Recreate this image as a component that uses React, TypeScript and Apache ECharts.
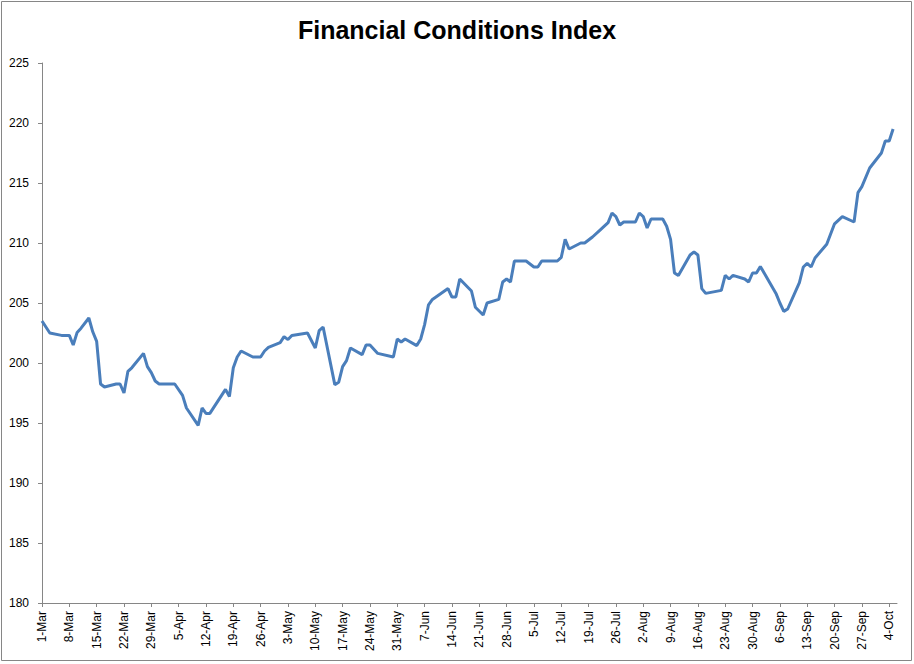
import React, { useEffect, useRef } from "react";
import * as echarts from "echarts";

const MONTHS = ["Jan", "Feb", "Mar", "Apr", "May", "Jun", "Jul", "Aug", "Sep", "Oct", "Nov", "Dec"];

// Axis range (daily date axis, 2010)
const startDate = "2010-03-01";
const dayCount = 220; // 1-Mar .. 6-Oct

const tickLabels = [
  "1-Mar", "8-Mar", "15-Mar", "22-Mar", "29-Mar", "5-Apr", "12-Apr", "19-Apr", "26-Apr",
  "3-May", "10-May", "17-May", "24-May", "31-May", "7-Jun", "14-Jun", "21-Jun", "28-Jun",
  "5-Jul", "12-Jul", "19-Jul", "26-Jul", "2-Aug", "9-Aug", "16-Aug", "23-Aug", "30-Aug",
  "6-Sep", "13-Sep", "20-Sep", "27-Sep", "4-Oct",
];

const pointDates = [
  "1-Mar", "3-Mar", "6-Mar", "8-Mar", "9-Mar", "10-Mar", "11-Mar", "13-Mar", "14-Mar", "15-Mar",
  "16-Mar", "17-Mar", "20-Mar", "21-Mar", "22-Mar", "23-Mar", "24-Mar", "27-Mar", "28-Mar", "29-Mar",
  "30-Mar", "31-Mar", "4-Apr", "6-Apr", "7-Apr", "10-Apr", "11-Apr", "12-Apr", "13-Apr", "17-Apr",
  "18-Apr", "19-Apr", "20-Apr", "21-Apr", "24-Apr", "26-Apr", "27-Apr", "28-Apr", "1-May", "2-May",
  "3-May", "4-May", "8-May", "10-May", "11-May", "12-May", "15-May", "16-May", "17-May", "18-May",
  "19-May", "22-May", "23-May", "24-May", "26-May", "30-May", "31-May", "1-Jun", "2-Jun", "5-Jun",
  "6-Jun", "7-Jun", "8-Jun", "9-Jun", "13-Jun", "14-Jun", "15-Jun", "16-Jun", "19-Jun", "20-Jun",
  "22-Jun", "23-Jun", "26-Jun", "27-Jun", "28-Jun", "29-Jun", "30-Jun", "3-Jul", "5-Jul", "6-Jul",
  "7-Jul", "11-Jul", "12-Jul", "13-Jul", "14-Jul", "17-Jul", "18-Jul", "20-Jul", "22-Jul", "24-Jul",
  "25-Jul", "26-Jul", "27-Jul", "28-Jul", "31-Jul", "1-Aug", "2-Aug", "3-Aug", "4-Aug", "7-Aug",
  "8-Aug", "9-Aug", "10-Aug", "11-Aug", "14-Aug", "15-Aug", "16-Aug", "17-Aug", "18-Aug", "22-Aug",
  "23-Aug", "24-Aug", "25-Aug", "28-Aug", "29-Aug", "30-Aug", "31-Aug", "1-Sep", "5-Sep", "6-Sep",
  "7-Sep", "8-Sep", "11-Sep", "12-Sep", "13-Sep", "14-Sep", "15-Sep", "18-Sep", "20-Sep", "22-Sep",
  "25-Sep", "26-Sep", "27-Sep", "29-Sep", "2-Oct", "3-Oct", "4-Oct", "5-Oct",
];

const pointValues = [
  203.5, 202.5, 202.3, 202.3, 201.5, 202.55, 202.9, 203.75, 202.6, 201.8,
  198.25, 198.0, 198.25, 198.25, 197.5, 199.3, 199.6, 200.8, 199.7, 199.2,
  198.5, 198.25, 198.25, 197.3, 196.25, 194.8, 196.25, 195.8, 195.8, 197.8,
  197.2, 199.6, 200.5, 201.0, 200.5, 200.5, 201.0, 201.3, 201.7, 202.2,
  201.95, 202.3, 202.5, 201.25, 202.7, 203.0, 198.2, 198.4, 199.7, 200.2,
  201.25, 200.7, 201.5, 201.5, 200.8, 200.5, 202.0, 201.75, 202.0, 201.45,
  202.0, 203.2, 204.85, 205.3, 206.2, 205.5, 205.5, 207.0, 206.0, 204.65,
  204.0, 205.0, 205.3, 206.75, 207.0, 206.75, 208.5, 208.5, 208.0, 208.0,
  208.5, 208.5, 208.8, 210.3, 209.5, 210.0, 210.0, 210.5, 211.1, 211.7,
  212.5, 212.2, 211.5, 211.75, 211.75, 212.5, 212.2, 211.25, 212.0, 212.0,
  211.4, 210.3, 207.5, 207.3, 209.0, 209.25, 209.0, 206.2, 205.8, 206.05,
  207.3, 207.0, 207.3, 207.0, 206.75, 207.5, 207.5, 208.05, 205.8, 205.0,
  204.3, 204.5, 206.7, 208.0, 208.3, 208.0, 208.75, 209.9, 211.6, 212.2,
  211.75, 214.2, 214.7, 216.25, 217.5, 218.5, 218.5, 219.5,
];

const yMin = 180;
const yMax = 225;
const yStep = 5;

function buildCategories(): string[] {
  const [y, m, d] = startDate.split("-").map(Number);
  const base = Date.UTC(y, m - 1, d);
  const out: string[] = [];
  for (let i = 0; i < dayCount; i++) {
    const dt = new Date(base + i * 86400000);
    out.push(`${dt.getUTCDate()}-${MONTHS[dt.getUTCMonth()]}`);
  }
  return out;
}

export default function App() {
  const ref = useRef<HTMLDivElement>(null);

  useEffect(() => {
    if (!ref.current) return;
    const chart = echarts.init(ref.current, undefined, { renderer: "svg" });
    const categories = buildCategories();
    const lookup = new Map<string, number>();
    pointDates.forEach((d, i) => lookup.set(d, pointValues[i]));
    const seriesData = categories.map((c) => (lookup.has(c) ? lookup.get(c)! : null));
    const tickSet = new Set(tickLabels);
    const font = "'Liberation Sans', Arial, sans-serif";

    chart.setOption({
      animation: false,
      backgroundColor: "#ffffff",
      title: {
        text: "Financial Conditions Index",
        left: "center",
        top: 12,
        textStyle: {
          fontFamily: font,
          fontWeight: "bold",
          fontSize: 25,
          color: "#000000",
        },
      },
      graphic: [
        {
          type: "rect",
          shape: { x: 1.5, y: 1.5, width: 910, height: 659 },
          style: { fill: "none", stroke: "#868686", lineWidth: 1 },
          silent: true,
        },
      ],
      grid: { left: 42, right: 17, top: 63, bottom: 61, containLabel: false },
      xAxis: {
        type: "category",
        data: categories,
        boundaryGap: false,
        axisLine: { lineStyle: { color: "#868686", width: 1 } },
        axisTick: {
          interval: 6,
          length: 4,
          lineStyle: { color: "#868686" },
        },
        axisLabel: {
          interval: 6,
          rotate: 90,
          margin: 8,
          fontFamily: font,
          fontSize: 12,
          color: "#000000",
          padding: [5, 0, 0, 0],
          formatter: (v: string) => (tickSet.has(v) ? v : ""),
        },
        splitLine: { show: false },
      },
      yAxis: {
        type: "value",
        min: yMin,
        max: yMax,
        interval: yStep,
        axisLine: { show: true, lineStyle: { color: "#868686", width: 1 } },
        axisTick: { show: true, length: 4, lineStyle: { color: "#868686" } },
        axisLabel: {
          margin: 13,
          fontFamily: font,
          fontSize: 12,
          color: "#000000",
        },
        splitLine: { show: false },
      },
      series: [
        {
          type: "line",
          data: seriesData,
          connectNulls: true,
          showSymbol: false,
          symbol: "none",
          lineStyle: { color: "#4A7EBB", width: 3 },
          itemStyle: { color: "#4A7EBB" },
        },
      ],
    });

    return () => chart.dispose();
  }, []);

  return (
    <div
      ref={ref}
      style={{ position: "fixed", left: 0, top: 0, width: 914, height: 664, background: "#fff" }}
    />
  );
}
